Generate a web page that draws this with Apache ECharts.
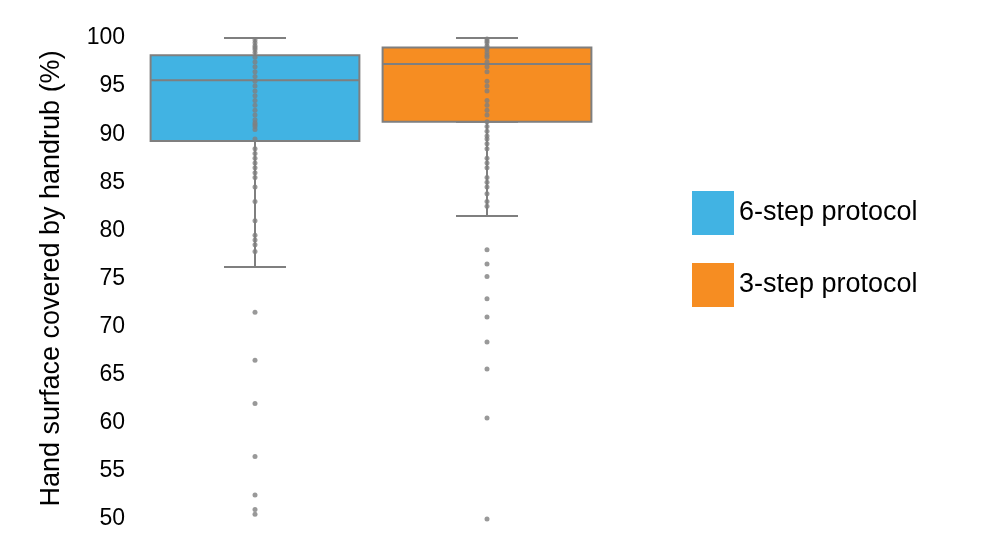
<!DOCTYPE html>
<html><head><meta charset="utf-8">
<script src="https://cdn.jsdelivr.net/npm/echarts@6/dist/echarts.min.js"></script>
<style>html,body{margin:0;background:#fff}#c{width:983px;height:555px}</style>
</head><body><div id="c"></div>
<script>
const categories = ['6-step protocol', '3-step protocol'];
const boxStats6 = [76.2, 89.3, 95.6, 98.2, 100];
const boxStats3 = [81.5, 91.3, 97.3, 99.0, 100];
const points6 = [99.8,99.5,99.2,99,98.8,98.5,98,97.5,97,96.5,96,95.5,95,94.5,94,93.5,93,92.5,92,91.5,91.2,91,90.8,90.5,89.5,88.5,88,87.5,87,86.5,86,85.5,84.5,83,81,79.5,79,78.5,77.8,71.5,66.5,62,56.5,52.5,51,50.5];
const points3 = [99.9,99.7,99.5,99.2,99,98.8,98.5,98.2,98,97.5,97,96.5,95.5,95,94.5,93.5,93,92.5,92,91.3,90.8,90.3,89.8,89.5,89,88.5,87.5,87,86.5,85.5,85,84.5,83.8,83,82.5,78,76.5,75.2,72.9,71,68.4,65.6,60.5,50];
const colors = ['#41b3e3', '#f68d22'];
const stats = [boxStats6, boxStats3];
const chart = echarts.init(document.getElementById('c'));
const font = 'Liberation Sans';
chart.setOption({
  animation:false,
  grid:{left:139,right:380,top:38,bottom:36},
  legend:{orient:'vertical',left:687,top:186,itemWidth:42,itemHeight:44,itemGap:28,icon:'rect',
    data:categories,textStyle:{fontSize:27,color:'#000',fontFamily:font}},
  xAxis:[{type:'category',data:categories,show:false},{type:'category',data:categories,show:false}],
  yAxis:{type:'value',min:50,max:100,interval:5,axisLine:{show:false},axisTick:{show:false},splitLine:{show:false},
    axisLabel:{fontSize:23,color:'#000',fontFamily:font,margin:14},
    name:'Hand surface covered by handrub (%)',nameLocation:'middle',nameGap:74,
    nameTextStyle:{fontSize:27,color:'#000',fontFamily:font}},
  series:[
    {type:'boxplot',name:'whisker',xAxisIndex:1,boxWidth:[62,62],z:1,
     itemStyle:{borderColor:'#7f7f7f',borderWidth:2,color:'#fff'},
     data:stats.map(s=>[s[0],s[1],s[1],s[1],s[4]])},
    {type:'boxplot',name:'box',boxWidth:['90%','90%'],z:2,
     itemStyle:{borderColor:'#7f7f7f',borderWidth:2},
     data:stats.map((s,i)=>({value:[s[1],s[1],s[2],s[3],s[3]],itemStyle:{color:colors[i]}}))},
    {type:'scatter',symbolSize:5,itemStyle:{color:'#808080'},z:5,
     data:points6.map(v=>[0,v]).concat(points3.map(v=>[1,v]))},
    {type:'bar',name:categories[0],data:[],itemStyle:{color:colors[0]}},
    {type:'bar',name:categories[1],data:[],itemStyle:{color:colors[1]}}
  ]
});
</script></body></html>
